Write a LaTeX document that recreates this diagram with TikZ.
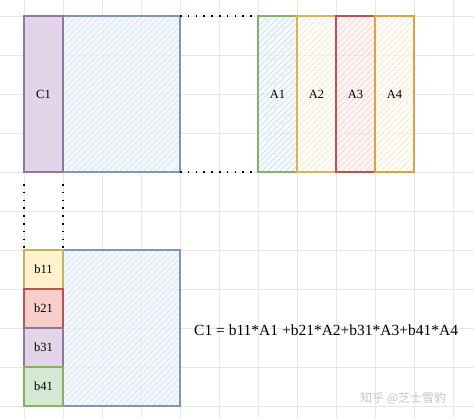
\documentclass[tikz,border=0pt]{standalone}
\usepackage{fontspec}
\setmainfont{Liberation Serif}
\newfontfamily\cjk{Noto Sans CJK SC}
\usetikzlibrary{patterns.meta}
\definecolor{gridc}{HTML}{E6E6E6}
\definecolor{bluestroke}{HTML}{7F96BC}
\definecolor{bluefill}{HTML}{EEF5FC}
\definecolor{bluehatch}{HTML}{C6D9EE}
\definecolor{purplefill}{HTML}{E1D5E7}
\definecolor{purplestroke}{HTML}{9673A6}
\definecolor{greenfill}{HTML}{D5E8D4}
\definecolor{greenstroke}{HTML}{82B366}
\definecolor{yellowfill}{HTML}{FFF2CC}
\definecolor{yellowstroke}{HTML}{D6B656}
\definecolor{redfill}{HTML}{F8CECC}
\definecolor{redstroke}{HTML}{B85450}
\definecolor{orangestroke}{HTML}{D9A441}
\tikzset{
  cell/.style={draw, line width=1.2pt, inner sep=0pt, outer sep=0pt, minimum width=39pt, font=\fontsize{12.5}{14}\selectfont},
  hatch/.style={pattern={Lines[angle=45,distance=4pt,line width=0.55pt]}},
  bigsq/.style={draw=bluestroke, line width=1.2pt, inner sep=0pt, outer sep=0pt, minimum width=117pt, minimum height=156pt,
    preaction={fill=bluefill, fill opacity=0.7}, hatch, pattern color=bluehatch},
  acol/.style={cell, minimum height=156pt, hatch},
  bcell/.style={cell, minimum height=39pt},
  dots/.style={line width=1.6pt, dash pattern=on 1.6pt off 6.2pt}
}
\begin{document}
\begin{tikzpicture}[x=1pt,y=-1pt]
\useasboundingbox[fill=white] (0,0) rectangle (474,418);
% grid
\foreach \i in {0,...,11} \draw[gridc, line width=0.8pt] (24+39*\i,0) -- (24+39*\i,418);
\foreach \j in {0,...,10} \draw[gridc, line width=0.8pt] (0,16+39*\j) -- (474,16+39*\j);
% top
\node[bigsq] (topsq) at (121.5,94) {};
\node[cell, minimum height=156pt, fill=purplefill, draw=purplestroke] (c1) at (43.5,94) {C1};
\node[acol, draw=greenstroke, preaction={fill=bluefill, fill opacity=0.6}, pattern color=greenfill!60!bluehatch!80!gray] (a1) at (277.5,94) {A1};
\node[acol, draw=yellowstroke, preaction={fill=yellowfill!40, fill opacity=0.6}, pattern color=gray!28] (a2) at (316.5,94) {A2};
\node[acol, draw=redstroke, preaction={fill=redfill!35, fill opacity=0.6}, pattern color=redfill!85!gray] (a3) at (355.5,94) {A3};
\node[acol, draw=orangestroke, preaction={fill=yellowfill!40, fill opacity=0.6}, pattern color=gray!28] (a4) at (394.5,94) {A4};
% bottom
\node[bigsq] (botsq) at (121.5,328) {};
\node[bcell, fill=yellowfill, draw=yellowstroke!70!greenstroke] (b11) at (43.5,269.5) {b11};
\node[bcell, fill=redfill, draw=redstroke] (b21) at (43.5,308.5) {b21};
\node[bcell, fill=purplefill, draw=purplestroke] (b31) at (43.5,347.5) {b31};
\node[bcell, fill=greenfill, draw=greenstroke] (b41) at (43.5,386.5) {b41};
% dotted connectors
\draw[dots] (topsq.north east) -- (a1.north west);
\draw[dots] (topsq.south east) -- (a1.south west);
\draw[dots] ([yshift=-12pt]c1.south west) -- (b11.north west);
\draw[dots] ([yshift=-12pt]c1.south east) -- (b11.north east);
% formula
\node[font=\fontsize{15.5}{18}\selectfont, anchor=west, inner sep=0pt] (eq) at (194,330) {C1 = b11*A1 +b21*A2+b31*A3+b41*A4};
\node[font=\cjk\fontsize{12}{14}\selectfont, text=gray!45, anchor=west, inner sep=0pt] (wm) at (360,398) {知乎 @芝士雪豹};
\end{tikzpicture}
\end{document}
